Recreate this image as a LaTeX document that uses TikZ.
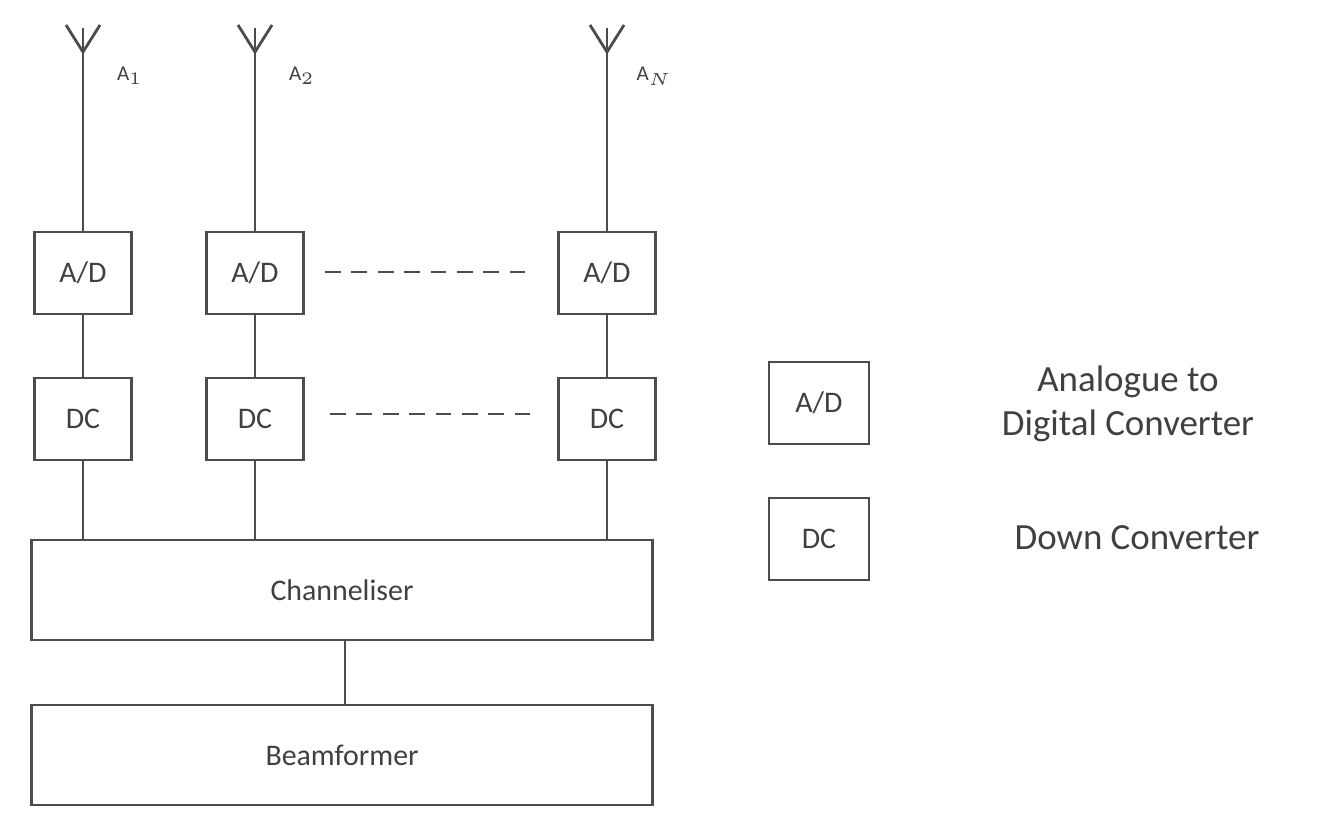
\documentclass[tikz,border=0pt]{standalone}
\usepackage{fontspec}
\setmainfont{Carlito}
\begin{document}
\begin{tikzpicture}[x=0.01cm,y=-0.01cm,
  ln/.style={line width=0.8pt,draw=black!70},
  box/.style={ln,rectangle,inner sep=0pt,font=\fontsize{8.5}{10}\selectfont,text=black!75},
  sq/.style={box,minimum width=0.97cm,minimum height=0.82cm},
  big/.style={box,minimum width=6.21cm,minimum height=1.0cm},
  lab/.style={font=\fontsize{6}{7}\selectfont,text=black!75},
  leg/.style={font=\fontsize{10.5}{12.5}\selectfont,text=black!75,align=center}]
\useasboundingbox (0,0) rectangle (1318,840);
\foreach \n/\x/\l in {1/83/A$_1$,2/255/A$_2$,3/607/A$_N$}{
  \node[sq] (ad\n) at (\x,273) {A/D};
  \node[sq] (dc\n) at (\x,419) {DC};
  \coordinate (top\n) at (\x,28);
  \coordinate (tip\n) at (\x,52);
  \draw[ln] (\x-17,25) -- (tip\n) -- (\x+17,25);
  \draw[ln] (top\n) -- (ad\n.north);
  \draw[ln] (ad\n) -- (dc\n);
  \node[lab] (lab\n) at (\x+47,76) {\l};
}
\node[big] (ch) at (342,590) {Channeliser};
\node[big] (bf) at (342,755) {Beamformer};
\foreach \n in {1,2,3}{\draw[ln] (dc\n.south) -- (dc\n.south |- ch.north);}
\draw[ln] (ch.south -| 345,0) -- (bf.north -| 345,0);
\coordinate (d1) at (325,272); \coordinate (d2) at (525,272);
\coordinate (d3) at (330,414); \coordinate (d4) at (530,414);
\draw[ln,dash pattern=on 4.5pt off 3pt] (d1) -- (d2);
\draw[ln,dash pattern=on 4.5pt off 3pt] (d3) -- (d4);
\node[sq,minimum width=1.0cm] (lad) at (819,403) {A/D};
\node[sq,minimum width=1.0cm] (ldc) at (819,539) {DC};
\node[leg] (tad) at (1128,404) {Analogue to\\Digital Converter};
\node[leg] (tdc) at (1137,538) {Down Converter};
\end{tikzpicture}
\end{document}
